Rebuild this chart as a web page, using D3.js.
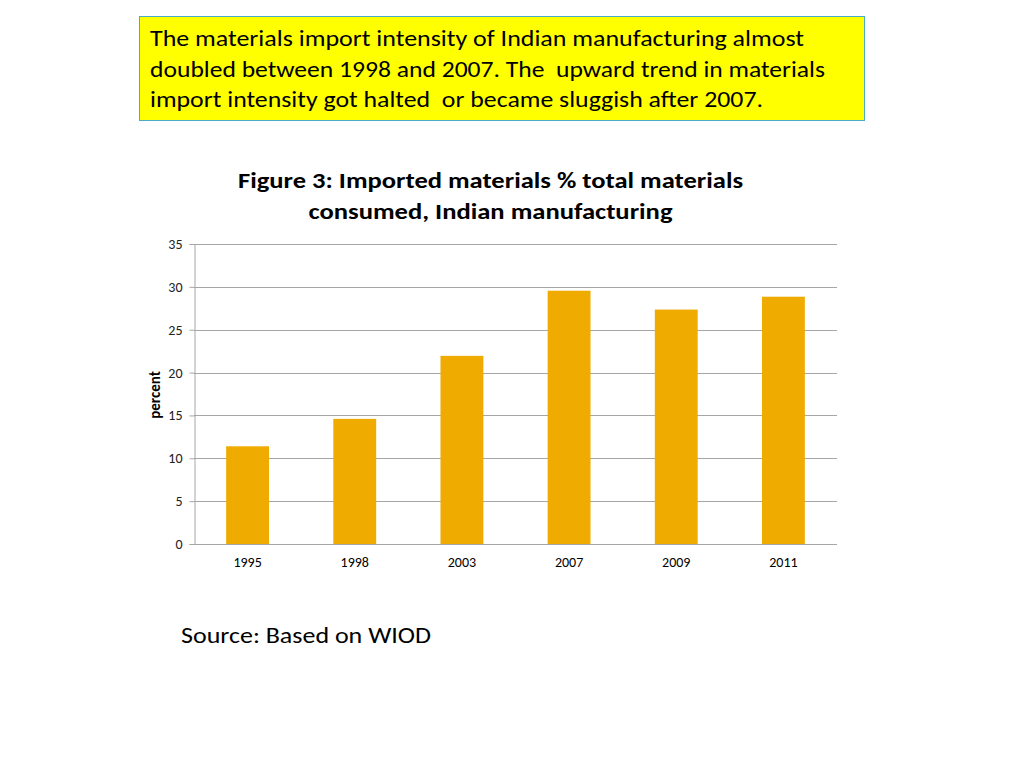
<!DOCTYPE html>
<html>
<head>
<meta charset="utf-8">
<script src="https://cdn.jsdelivr.net/npm/d3@7/dist/d3.min.js"></script>
<style>
  html, body { margin: 0; padding: 0; background: #fff; }
  svg { display: block; }
</style>
</head>
<body>
<svg id="chart" width="1024" height="768"></svg>
<script>
const categories = ["1995", "1998", "2003", "2007", "2009", "2011"];
const values = [11.4, 14.6, 21.95, 29.55, 27.35, 28.85];
const yTicks = [0, 5, 10, 15, 20, 25, 30, 35];
const noteLines = [
  "The materials import intensity of Indian manufacturing almost",
  "doubled between 1998 and 2007. The  upward trend in materials",
  "import intensity got halted  or became sluggish after 2007."
];
const titleLines = [
  "Figure 3: Imported materials % total materials",
  "consumed, Indian manufacturing"
];
const sourceText = "Source: Based on WIOD";
const yLabel = "percent";

(function () {
const font = "Carlito, Lato, 'Open Sans', sans-serif";
const svg = d3.select("#chart");
const noteWidths = [654, 675, 613];
const titleWidths = [505, 364];

// Note box
svg.append("rect")
  .attr("x", 139.5).attr("y", 16.5).attr("width", 725).attr("height", 104)
  .attr("fill", "#ffff00").attr("stroke", "#4bacc6").attr("stroke-width", 1);
svg.append("g").selectAll("text").data(noteLines).join("text")
  .attr("x", 150).attr("y", (d, i) => 46 + i * 30.5)
  .attr("font-family", font).attr("font-size", 23).attr("fill", "#000")
  .attr("textLength", (d, i) => noteWidths[i]).attr("lengthAdjust", "spacingAndGlyphs")
  .style("white-space", "pre")
  .text(d => d);

// Title
svg.append("g").selectAll("text").data(titleLines).join("text")
  .attr("x", 490.5).attr("y", (d, i) => 188 + i * 30.5)
  .attr("text-anchor", "middle")
  .attr("font-family", font).attr("font-size", 23).attr("font-weight", "bold").attr("fill", "#000")
  .attr("textLength", (d, i) => titleWidths[i]).attr("lengthAdjust", "spacingAndGlyphs")
  .text(d => d);

// Plot
const pLeft = 194, pRight = 837, pTop = 244, pBottom = 544;
const x = d3.scaleBand().domain(categories).range([pLeft, pRight]).paddingInner(0.6).paddingOuter(0.3);
const y = d3.scaleLinear().domain([0, 35]).range([pBottom, pTop]);

// gridlines
svg.append("g").selectAll("line").data(yTicks).join("line")
  .attr("x1", pLeft).attr("x2", pRight)
  .attr("y1", d => Math.round(y(d)) + 0.5).attr("y2", d => Math.round(y(d)) + 0.5)
  .attr("stroke", "#a6a6a6").attr("stroke-width", 1);

// bars
svg.append("g").selectAll("rect").data(values).join("rect")
  .attr("x", (d, i) => x(categories[i]))
  .attr("width", x.bandwidth())
  .attr("y", d => y(d))
  .attr("height", d => y(0) - y(d))
  .attr("fill", "#efab00");

// y axis
const yAxis = d3.axisLeft(y).tickValues(yTicks).tickSize(5).tickPadding(7);
const gy = svg.append("g").attr("transform", `translate(${pLeft + 0.5},0)`).call(yAxis);
gy.select(".domain").attr("stroke", "#a6a6a6");
gy.selectAll(".tick line").attr("stroke", "#a6a6a6");
gy.selectAll(".tick text").attr("font-family", font).attr("font-size", 14).attr("fill", "#222");

// x axis labels
const xAxis = d3.axisBottom(x).tickSize(0).tickPadding(13);
const gx = svg.append("g").attr("transform", `translate(0,${pBottom + 0.5})`).call(xAxis);
gx.select(".domain").remove();
gx.selectAll(".tick text").attr("font-family", font).attr("font-size", 14).attr("fill", "#000");

// y label
svg.append("text")
  .attr("transform", `translate(160,395) rotate(-90)`)
  .attr("text-anchor", "middle")
  .attr("font-family", font).attr("font-size", 15).attr("font-weight", "bold")
  .text(yLabel);

// source
svg.append("text")
  .attr("x", 181).attr("y", 643)
  .attr("font-family", font).attr("font-size", 23).attr("fill", "#000")
  .attr("textLength", 250).attr("lengthAdjust", "spacingAndGlyphs")
  .text(sourceText);
})();
</script>
</body>
</html>
